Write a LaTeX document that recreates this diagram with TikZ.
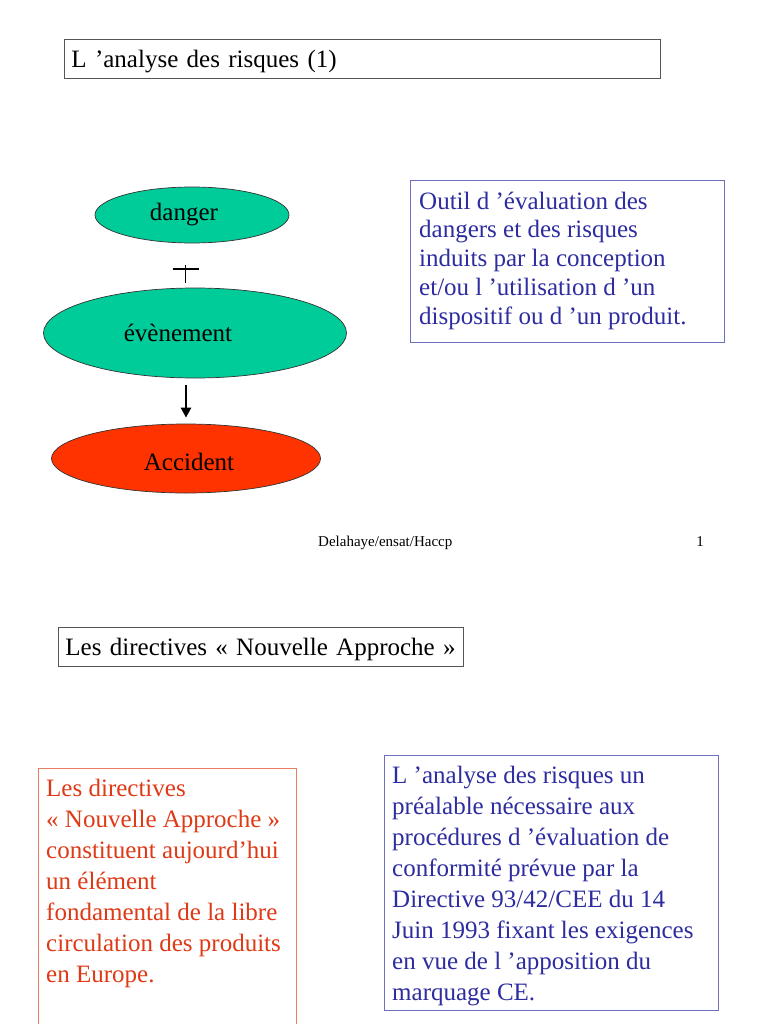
\documentclass[tikz,border=0pt]{standalone}
\usepackage{fontspec}
\setmainfont{Liberation Serif}
\usetikzlibrary{shapes.geometric,arrows.meta}
\definecolor{greenfill}{RGB}{0,204,153}
\definecolor{redfill}{RGB}{255,51,0}
\definecolor{bluetext}{RGB}{45,45,160}
\definecolor{blueborder}{RGB}{110,110,195}
\definecolor{redtext}{RGB}{222,58,22}
\definecolor{redborder}{RGB}{232,125,100}
\definecolor{titleborder}{RGB}{85,85,85}
\begin{document}
\begin{tikzpicture}[x=1pt,y=-1pt,
  bigfont/.style={font=\fontsize{25}{28.75}\selectfont},
  titlebox/.style={draw=titleborder, line width=0.9pt, rectangle, anchor=north west,
    inner xsep=7pt, inner ysep=0pt, text height=20pt, text depth=3pt, align=left, bigfont},
  oval/.style={ellipse, draw=black!80, line width=0.7pt, inner sep=0pt},
  ovaltext/.style={inner sep=0pt, bigfont},
  bluebox/.style={draw=blueborder, line width=1pt, rectangle, anchor=north west, inner sep=0pt},
  bodytext/.style={anchor=north west, inner sep=0pt, align=left},
  arrowline/.style={line width=2.6pt, -{Triangle[length=10pt,width=10pt]}},
  plusline/.style={line width=1.8pt}
]
\path[use as bounding box] (0,0) rectangle (768,1024);
\fill[white] (0,0) rectangle (768,1024);

% title 1
\node[titlebox, minimum width=596pt, minimum height=39pt, text width=582pt] (t1) at (64,39)
  {L ’analyse des risques (1)};

% ellipses
\node[oval, fill=greenfill, minimum width=194pt, minimum height=56pt] (danger) at (192,215) {};
\node[ovaltext] (dangertxt) at ([xshift=-8pt]danger.center) {danger};
\node[oval, fill=greenfill, minimum width=303pt, minimum height=90pt] (evt) at (195,333) {};
\node[ovaltext] (evttxt) at ([xshift=-17pt]evt.center) {évènement};
\node[oval, fill=redfill, minimum width=269pt, minimum height=69pt] (acc) at (186,458.5) {};
\node[ovaltext] (acctxt) at ([xshift=3pt,yshift=-3pt]acc.center) {Accident};

% plus sign
\coordinate (plusc) at (185.5,269);
\draw[plusline] ([xshift=-13pt]plusc) -- ([xshift=13pt]plusc);
\draw[plusline] ([yshift=4pt]plusc) -- ([yshift=-14pt]plusc);

% arrow
\draw[arrowline, shorten <=7pt, shorten >=6pt] (acc.north |- evt.south) -- (acc.north);

% right box 1
\node[bluebox, minimum width=314pt, minimum height=162pt] (def) at (410,180) {};
\node[bodytext, text=bluetext, font=\fontsize{25}{28.75}\selectfont] (deftxt) at (419,189)
  {\rule{0pt}{20pt}Outil d ’évaluation des\\
   dangers et des risques\\
   induits par la conception\\
   et/ou l ’utilisation d ’un\\
   dispositif ou d ’un produit.};

% footer
\node[anchor=base west, inner sep=0pt, font=\fontsize{15}{18}\selectfont] (foot) at (318,546) {Delahaye/ensat/Haccp};
\node[anchor=base, inner sep=0pt, font=\fontsize{15}{18}\selectfont] (pg) at (700,546) {1};

% title 2
\node[titlebox, minimum width=405pt, minimum height=39pt, text width=391pt] (t2) at (58,627)
  {Les directives « Nouvelle Approche »};

% bottom left box (cut at page bottom)
\draw[redborder, line width=1pt] (38,1030) -- (38,768) -- (296,768) -- (296,1030);
\node[bodytext, text=redtext, font=\fontsize{25}{30.9}\selectfont] (na) at (46,776.5)
  {\rule{0pt}{20pt}Les directives\\
   « Nouvelle Approche »\\
   constituent aujourd’hui\\
   un élément\\
   fondamental de la libre\\
   circulation des produits\\
   en Europe.};

% bottom right box
\node[bluebox, minimum width=334pt, minimum height=255pt] (ce) at (384,755) {};
\node[bodytext, text=bluetext, font=\fontsize{25}{31}\selectfont] (cetxt) at (392,763)
  {\rule{0pt}{20pt}L ’analyse des risques un\\
   préalable nécessaire aux\\
   procédures d ’évaluation de\\
   conformité prévue par la\\
   Directive 93/42/CEE du 14\\
   Juin 1993 fixant les exigences\\
   en vue de l ’apposition du\\
   marquage CE.};
\end{tikzpicture}
\end{document}
